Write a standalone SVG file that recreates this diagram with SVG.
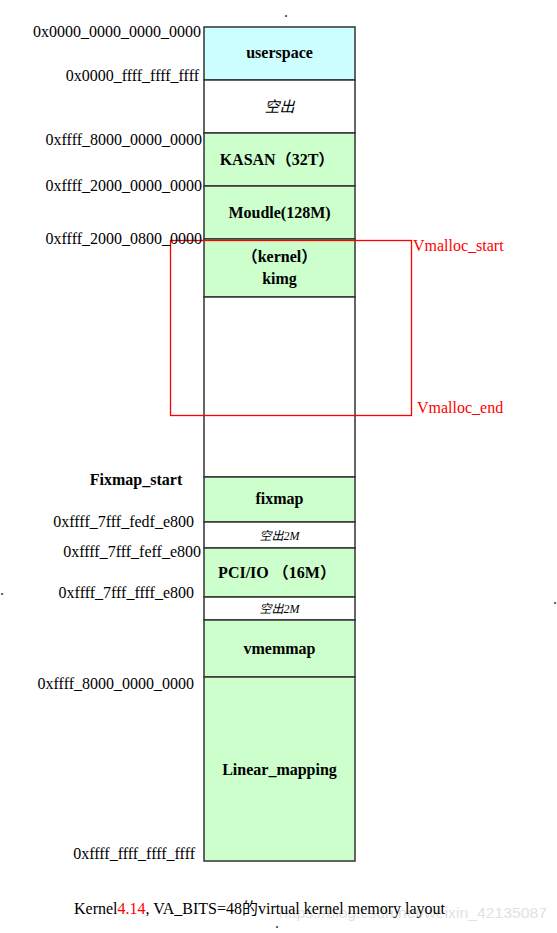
<svg xmlns="http://www.w3.org/2000/svg" width="557" height="933" viewBox="0 0 557 933">
<style>
.blk{stroke:#333;stroke-width:1.5}
.g{fill:#ccffcc}
.c{fill:#ccffff}
.w{fill:#ffffff}
.lbl{font-family:"Liberation Serif","Noto Sans CJK SC",serif;font-size:16px;fill:#000;text-anchor:middle;font-weight:bold}
.it{font-family:"Liberation Serif","Noto Sans CJK SC",serif;font-style:italic;fill:#000;text-anchor:middle}
.addr{font-family:"Liberation Serif",serif;font-size:16px;fill:#000;text-anchor:end}
.red{font-family:"Liberation Serif",serif;font-size:16px;fill:#ff0000}
.dot{font-family:"Liberation Serif",serif;font-size:16px;fill:#333}
</style>
<rect width="557" height="933" fill="#ffffff"/>
<g id="userspace"><rect class="blk c" x="204" y="27" width="151" height="53"/><text class="lbl" x="279.5" y="58">userspace</text></g>
<g id="gap1"><rect class="blk w" x="204" y="80" width="151" height="53"/><text class="it" x="279.5" y="112" font-size="15">空出</text></g>
<g id="kasan"><rect class="blk g" x="204" y="133" width="151" height="53"/><text class="lbl" x="277" y="165">KASAN（32T）</text></g>
<g id="module"><rect class="blk g" x="204" y="186" width="151" height="53"/><text class="lbl" x="279.5" y="218">Moudle(128M)</text></g>
<g id="kimg"><rect class="blk g" x="204" y="239" width="151" height="58"/><text class="lbl" x="279.5" y="262">（kernel）</text><text class="lbl" x="279.5" y="284">kimg</text></g>
<g id="vmalloc-area"><rect class="blk w" x="204" y="297" width="151" height="180"/></g>
<g id="fixmap"><rect class="blk g" x="204" y="477" width="151" height="45"/><text class="lbl" x="279.5" y="504">fixmap</text></g>
<g id="gap2"><rect class="blk w" x="204" y="522" width="151" height="26"/><text class="it" x="279.5" y="540" font-size="12">空出2M</text></g>
<g id="pciio"><rect class="blk g" x="204" y="548" width="151" height="49"/><text class="lbl" x="277" y="578">PCI/IO （16M）</text></g>
<g id="gap3"><rect class="blk w" x="204" y="597" width="151" height="23"/><text class="it" x="279.5" y="613" font-size="12">空出2M</text></g>
<g id="vmemmap"><rect class="blk g" x="204" y="620" width="151" height="57"/><text class="lbl" x="279.5" y="654">vmemmap</text></g>
<g id="linear"><rect class="blk g" x="204" y="677" width="151" height="184"/><text class="lbl" x="279.5" y="775">Linear_mapping</text></g>
<g id="connectors">
<rect id="vmalloc-box" x="170.5" y="240.5" width="241" height="175" fill="none" stroke="#ff0000" stroke-width="1.3"/>
</g>
<g id="addresses">
<text class="addr" x="201" y="37">0x0000_0000_0000_0000</text>
<text class="addr" x="199" y="81">0x0000_ffff_ffff_ffff</text>
<text class="addr" x="202" y="145">0xffff_8000_0000_0000</text>
<text class="addr" x="202" y="191">0xffff_2000_0000_0000</text>
<text class="addr" x="202" y="244">0xffff_2000_0800_0000</text>
<text class="lbl" x="136" y="485">Fixmap_start</text>
<text class="addr" x="194" y="527">0xffff_7fff_fedf_e800</text>
<text class="addr" x="201" y="557">0xffff_7fff_feff_e800</text>
<text class="addr" x="194" y="598">0xffff_7fff_ffff_e800</text>
<text class="addr" x="194" y="689">0xffff_8000_0000_0000</text>
<text class="addr" x="195" y="859">0xffff_ffff_ffff_ffff</text>
</g>
<text class="red" x="413" y="251">Vmalloc_start</text>
<text class="red" x="417" y="413">Vmalloc_end</text>
<text x="279" y="918" font-family="Liberation Sans,Arial,sans-serif" font-size="14" fill="#e2e2e2" textLength="268" lengthAdjust="spacingAndGlyphs">https://blog.csdn.net/weixin_42135087</text>
<text x="74" y="914" font-family="Liberation Serif,Noto Sans CJK SC,serif" font-size="16" fill="#000">Kernel<tspan fill="#ff0000">4.14</tspan>, VA_BITS=48的virtual kernel memory layout</text>
<text class="dot" x="284" y="17">.</text>
<text class="dot" x="0" y="595">.</text>
<text class="dot" x="553" y="604">.</text>
<text class="dot" x="275" y="928">.</text>
</svg>
